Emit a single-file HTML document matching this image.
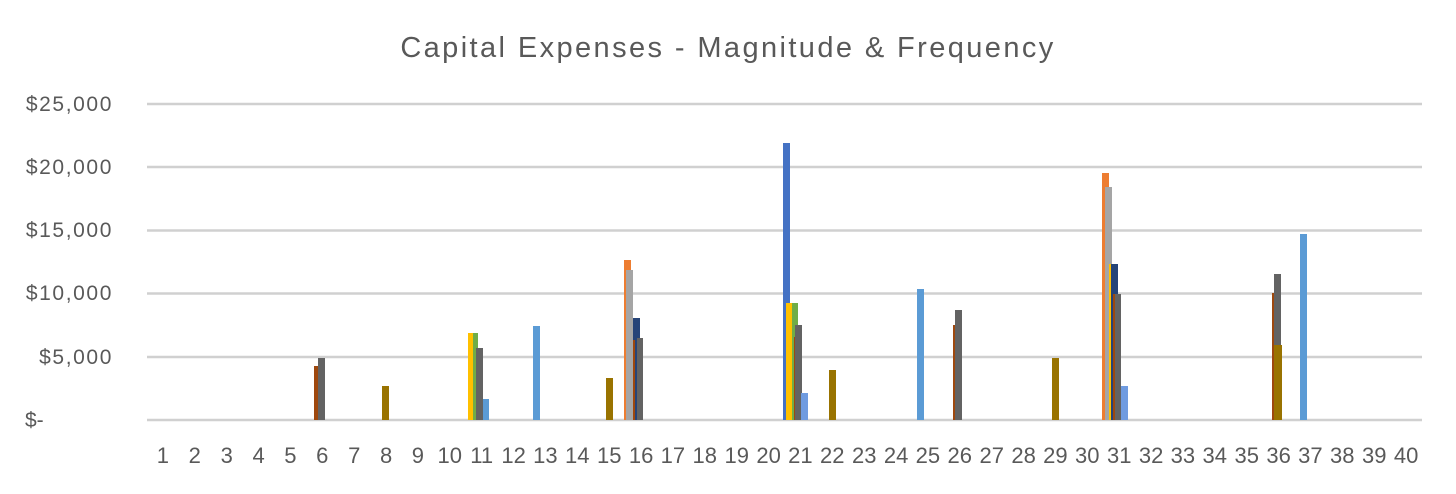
<!DOCTYPE html>
<html><head><meta charset="utf-8"><style>body{margin:0;background:#fff}</style></head><body>
<svg width="1456" height="489" xmlns="http://www.w3.org/2000/svg" font-family="Liberation Sans, sans-serif">
<rect width="1456" height="489" fill="#fff"/>
<text x="728" y="57" text-anchor="middle" font-size="29" letter-spacing="2.4" fill="#595959">Capital Expenses - Magnitude &amp; Frequency</text>
<g stroke="#d0d0d0" stroke-width="2.5">
<line x1="147" x2="1422" y1="104" y2="104"/><line x1="147" x2="1422" y1="167" y2="167"/><line x1="147" x2="1422" y1="230.5" y2="230.5"/><line x1="147" x2="1422" y1="293.5" y2="293.5"/><line x1="147" x2="1422" y1="357" y2="357"/><line x1="147" x2="1422" y1="420" y2="420"/>
</g>
<g font-size="21" fill="#595959" text-anchor="end" letter-spacing="1.6">
<text x="113" y="111">$25,000</text><text x="113" y="174">$20,000</text><text x="113" y="237">$15,000</text><text x="113" y="300">$10,000</text><text x="113" y="364">$5,000</text>
</g>
<text x="25" y="427" font-size="21" fill="#595959">$-</text>
<g>
<rect x="314" y="366" width="4" height="54" fill="#9e480e"/><rect x="318" y="358" width="7" height="62" fill="#636363"/>
<rect x="382" y="386" width="7" height="34" fill="#997300"/>
<rect x="468" y="333" width="5" height="87" fill="#ffc000"/><rect x="473" y="333" width="5" height="87" fill="#70ad47"/><rect x="476" y="348" width="7" height="72" fill="#636363"/><rect x="483" y="399" width="6" height="21" fill="#5b9bd5"/>
<rect x="533" y="326" width="7" height="94" fill="#5b9bd5"/>
<rect x="606" y="378" width="7" height="42" fill="#997300"/>
<rect x="624" y="260" width="7" height="160" fill="#ed7d31"/><rect x="626" y="270" width="7" height="150" fill="#a5a5a5"/><rect x="633" y="318" width="7" height="102" fill="#264478"/><rect x="633" y="340" width="2" height="80" fill="#9e480e"/><rect x="637" y="338" width="6" height="82" fill="#636363"/>
<rect x="783" y="143" width="7" height="277" fill="#4472c4"/><rect x="786" y="303" width="6" height="117" fill="#ffc000"/><rect x="792" y="303" width="6" height="117" fill="#70ad47"/><rect x="794" y="337" width="2" height="83" fill="#9e480e"/><rect x="795" y="325" width="7" height="95" fill="#636363"/><rect x="801" y="393" width="7" height="27" fill="#6f9be0"/>
<rect x="829" y="370" width="7" height="50" fill="#997300"/>
<rect x="917" y="289" width="7" height="131" fill="#5b9bd5"/>
<rect x="953" y="325" width="3" height="95" fill="#9e480e"/><rect x="955" y="310" width="7" height="110" fill="#636363"/>
<rect x="1052" y="358" width="7" height="62" fill="#997300"/>
<rect x="1102" y="173" width="7" height="247" fill="#ed7d31"/><rect x="1105" y="187" width="7" height="233" fill="#a5a5a5"/><rect x="1109" y="264" width="3" height="156" fill="#ffc000"/><rect x="1111" y="264" width="7" height="156" fill="#264478"/><rect x="1113" y="294" width="2" height="126" fill="#9e480e"/><rect x="1115" y="294" width="6" height="126" fill="#636363"/><rect x="1121" y="386" width="7" height="34" fill="#6f9be0"/>
<rect x="1272" y="293" width="3" height="127" fill="#9e480e"/><rect x="1274" y="274" width="7" height="146" fill="#636363"/><rect x="1274" y="345" width="8" height="75" fill="#997300"/>
<rect x="1300" y="234" width="7" height="186" fill="#5b9bd5"/>
</g>
<g font-size="22" fill="#595959" text-anchor="middle">
<text x="162.9" y="463">1</text><text x="194.8" y="463">2</text><text x="226.7" y="463">3</text><text x="258.6" y="463">4</text><text x="290.4" y="463">5</text><text x="322.3" y="463">6</text><text x="354.2" y="463">7</text><text x="386.1" y="463">8</text><text x="417.9" y="463">9</text><text x="449.8" y="463">10</text>
<text x="481.7" y="463">11</text><text x="513.6" y="463">12</text><text x="545.4" y="463">13</text><text x="577.3" y="463">14</text><text x="609.2" y="463">15</text><text x="641.1" y="463">16</text><text x="672.9" y="463">17</text><text x="704.8" y="463">18</text><text x="736.7" y="463">19</text><text x="768.6" y="463">20</text>
<text x="800.4" y="463">21</text><text x="832.3" y="463">22</text><text x="864.2" y="463">23</text><text x="896.1" y="463">24</text><text x="927.9" y="463">25</text><text x="959.8" y="463">26</text><text x="991.7" y="463">27</text><text x="1023.6" y="463">28</text><text x="1055.4" y="463">29</text><text x="1087.3" y="463">30</text>
<text x="1119.2" y="463">31</text><text x="1151.1" y="463">32</text><text x="1182.9" y="463">33</text><text x="1214.8" y="463">34</text><text x="1246.7" y="463">35</text><text x="1278.6" y="463">36</text><text x="1310.4" y="463">37</text><text x="1342.3" y="463">38</text><text x="1374.2" y="463">39</text><text x="1406.1" y="463">40</text>
</g>
</svg>
</body></html>
